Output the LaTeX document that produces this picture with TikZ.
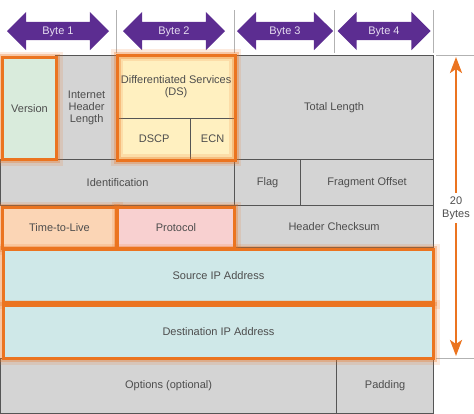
\documentclass[tikz,border=0pt]{standalone}
\usepackage{fontspec}
\setmainfont{Liberation Sans}
\usetikzlibrary{shapes.arrows,arrows.meta}

\definecolor{cellgray}{HTML}{D4D4D4}
\definecolor{linegray}{HTML}{555555}
\definecolor{textgray}{HTML}{4D4D4D}
\definecolor{vgreen}{HTML}{D9EBDC}
\definecolor{dsyellow}{HTML}{FFF0C0}
\definecolor{ttlorange}{HTML}{FBD5B5}
\definecolor{protopink}{HTML}{F8D0D0}
\definecolor{ipcyan}{HTML}{CFE8E8}
\definecolor{hlorange}{HTML}{EB7420}
\definecolor{bytepurple}{HTML}{5C2D91}
\definecolor{bytetext}{HTML}{E6DDF0}

\tikzset{
  cell/.style={draw=linegray, line width=1.2pt, fill=cellgray, text=textgray,
    anchor=north west, inner sep=0pt, align=center, font=\fontsize{11}{12}\selectfont},
  hl/.style={draw=hlorange, line width=3pt,
    preaction={draw=hlorange, line width=12pt, draw opacity=0.15},
    preaction={draw=hlorange, line width=7pt, draw opacity=0.3}},
  bytearrow/.style={double arrow, fill=bytepurple, text=bytetext, inner xsep=0pt,
    inner ysep=4pt, text height=8pt, text depth=2pt, double arrow head extend=10pt,
    font=\fontsize{11}{12}\selectfont},
  sepline/.style={draw=gray!60, line width=0.8pt},
  lenarrow/.style={draw=hlorange, line width=2.5pt,
    -{Stealth[length=16pt,width=12pt,inset=4pt]}}
}

\begin{document}
\begin{tikzpicture}[x=1pt, y=-1pt]
\useasboundingbox (0,0) rectangle (474,413);

% byte ruler
\foreach \x in {116, 234, 334, 433}{
    \draw[sepline] (\x,10) -- (\x,53);
}
\foreach \cx/\len/\n in {58/102/1, 174/102/2, 285/96/3, 384/93/4}{
    \node[bytearrow, minimum height=\len] (byte\n) at (\cx,31) {Byte \n};
}
\draw[sepline] (436,55) -- (474,55);
\draw[sepline] (436,358) -- (474,358);

% plain fields
\node[cell, minimum width=62, minimum height=104] (ihl) at (55,55) {Internet\\Header\\Length};
\node[cell, minimum width=199, minimum height=104] (total) at (234,55) {Total Length};
\node[cell, minimum width=234, minimum height=46] (ident) at (0,159) {Identification};
\node[cell, minimum width=66, minimum height=46] (flag) at (234,159) {Flag};
\node[cell, minimum width=133, minimum height=46] (frag) at (300,159) {Fragment Offset};
\node[cell, minimum width=199, minimum height=42] (chksum) at (234,205) {Header Checksum};
\node[cell, minimum width=336, minimum height=55] (options) at (0,358) {Options (optional)};
\node[cell, minimum width=97, minimum height=55] (padding) at (336,358) {Padding};

% highlighted fields
\node[cell, fill=dsyellow, minimum width=117, minimum height=63] (ds) at (117,55) {Differentiated Services\\(DS)};
\node[cell, fill=dsyellow, minimum width=73, minimum height=41] (dscp) at (117,118) {DSCP};
\node[cell, fill=dsyellow, minimum width=44, minimum height=41] (ecn) at (190,118) {ECN};
\draw[hl] (ds.north west) rectangle (ecn.south east);

\node[cell, hl, fill=vgreen, minimum width=54, minimum height=102] (version) at (1,56) {Version};
\node[cell, hl, fill=ttlorange, minimum width=114, minimum height=41] (ttl) at (1,206) {Time-to-Live};
\node[cell, hl, fill=protopink, minimum width=117, minimum height=41] (proto) at (116,206) {Protocol};
\node[cell, hl, fill=ipcyan, minimum width=430, minimum height=53] (src) at (2,248) {Source IP Address};
\node[cell, hl, fill=ipcyan, minimum width=430, minimum height=53] (dst) at (2,304) {Destination IP Address};

% header length
\coordinate (ltop) at (456,57);
\coordinate (lbot) at (456,356);
\node[text=textgray, align=center, font=\fontsize{11}{13}\selectfont] (len) at (456,208) {20\\Bytes};
\draw[lenarrow] (len) -- (ltop);
\draw[lenarrow] (len) -- (lbot);

\end{tikzpicture}
\end{document}
